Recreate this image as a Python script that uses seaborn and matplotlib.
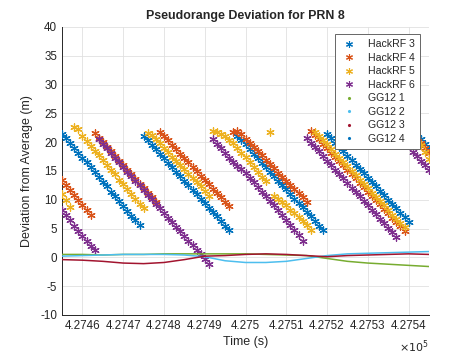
import numpy as np
import pandas as pd
import matplotlib
matplotlib.use('Agg')
import matplotlib.pyplot as plt
from matplotlib.lines import Line2D
import seaborn as sns

nan = np.nan

# HackRF samples, one per second from 427455 s to 427545 s
time_s = np.arange(427455, 427546)

hackrf3 = [21.5, 20.7, 19.8, 19.0, 18.1, 17.3, 16.5, 15.6, 14.8, 13.9, 13.1, 12.3, 11.4, 10.6, 9.7, 8.9, 8.1, 7.2, 6.4, 5.6,
           21.1, 20.3, 19.5, 18.8, 18.0, 17.2, 16.4, 15.6, 14.9, 14.1, 13.3, 12.5, 11.7, 11.0, 10.2, 9.4, 8.6, 7.8, 7.1, 6.3, 5.5, 4.7,
           nan,
           21.1, 20.3, 19.6, 18.8, 18.0, 17.2, 16.4, 15.7, 14.9, 14.1, 13.3, 12.6, 11.8, 11.0, 10.2, 9.4, 8.7, 7.9, 7.1, 6.3, 5.5, 4.8,
           21.4, 20.7, 19.9, 19.2, 18.4, 17.6, 16.9, 16.1, 15.4, 14.6, 13.8, 13.1, 12.3, 11.6, 10.8, 10.0, 9.3, 8.5, 7.7, 7.0, 6.2,
           nan, nan,
           20.5, 19.6, 18.8]

hackrf4 = [13.4, 12.5, 11.7, 10.8, 9.9, 9.1, 8.2, 7.4,
           21.6, 20.8, 20.0, 19.2, 18.4, 17.6, 16.8, 16.0, 15.2, 14.4, 13.6, 12.8, 12.0, 11.2, 10.4, 9.6,
           21.8, 21.0, 20.3, 19.5, 18.8, 18.0, 17.2, 16.5, 15.7, 15.0, 14.2, 13.4, 12.7, 11.9, 11.2, 10.4, 9.6, 8.9,
           21.8, 21.9, 21.4, 20.6, 19.9, 19.1, 18.4, 17.7, 16.9, 16.2, 15.5, 14.7, 14.0, 13.3, 12.6, 11.8, 11.1, 10.4, 9.6,
           22.0, 21.2, 20.5, 19.7, 19.0, 18.2, 17.5, 16.7, 16.0, 15.2, 14.4, 13.7, 12.9, 12.2, 11.4, 10.7, 9.9, 9.2, 8.4, 7.7, 6.9, 6.1, 5.4, 4.6,
           nan, nan,
           20.6, 19.8, 19.0, 18.2]

hackrf5 = [11.0, 10.0, 8.8,
           22.7, 22.3, 21.0, 20.2, 19.4, 18.5, 17.7, 16.9, 16.0, 15.2, 14.4, 13.5, 12.7, 11.9, 11.0, 10.2, 9.3, 8.5,
           21.6, 21.3, 20.5, 19.8, 19.0, 18.3, 17.5, 16.8, 16.0, 15.3, 14.5, 13.8, 13.0, 12.3, 11.5, 10.7,
           21.9, 21.7, 21.4, 21.0, 20.3, 19.8, 19.0, 18.2, 17.4, 16.5, 15.7, 14.9, 14.0, 13.3,
           21.8,
           10.6, 10.2, 9.6, 9.0, 8.3, 7.7, 7.0, 6.3, 5.6, 4.8,
           21.8, 21.1, 20.3, 19.6, 18.8, 18.0, 17.3, 16.5, 15.8, 15.0, 14.3, 13.5, 12.7, 12.0, 11.2, 10.5, 9.7, 9.0, 8.2, 7.4, 6.7, 5.9, 5.2,
           nan, nan, nan,
           19.5, 18.3, 17.1]

hackrf6 = [8.2, 7.3, 6.4, 5.5, 4.6, 3.7, 2.9, 2.0, 1.2,
           20.5, 19.7, 18.9, 18.1, 17.3, 16.5, 15.7, 14.9, 14.1, 13.3, 12.5, 11.7, 10.9, 10.1, 9.3, 8.5, 7.7, 6.9, 6.1, 5.3,
           4.5, 3.7, 2.9, 2.1, 1.3, 0.5, -0.3, -1.1,
           20.5, 19.7, 18.9, 18.1, 17.3, 16.5, 15.9, 15.3, 14.6, 13.8, 13.0, 12.2, 11.4, 10.6, 9.8, 9.0, 8.2, 7.4, 6.4, 5.6, 4.7, 3.8, 2.9,
           20.7, 19.9, 19.1, 18.4, 17.6, 16.8, 16.0, 15.2, 14.5, 13.7, 12.9, 12.1, 11.4, 10.6, 9.8, 9.0, 8.3, 7.5, 6.7, 5.9, 5.1, 4.4, 3.6,
           nan, nan, nan,
           18.3, 17.6, 16.8, 16.0, 15.2]

# GG12 receivers, read every 5 s
gg_time = [427455, 427460, 427465, 427470, 427475, 427480, 427485, 427490, 427495, 427500,
           427505, 427510, 427515, 427520, 427525, 427530, 427535, 427540, 427545]
gg12_1 = [0.5, 0.5, 0.4, 0.5, 0.5, 0.6, 0.6, 0.6, 0.6, 0.6, 0.5, 0.4, 0.3, -0.2, -0.7, -1.0, -1.2, -1.4, -1.6]
gg12_2 = [0.2, 0.3, 0.4, 0.5, 0.5, 0.5, 0.4, 0.1, -0.6, -0.9, -0.9, -0.7, -0.2, 0.3, 0.6, 0.7, 0.8, 0.9, 1.0]
gg12_3 = [-0.4, -0.5, -0.7, -1.0, -1.1, -0.9, -0.4, 0.2, 0.3, 0.5, 0.6, 0.5, 0.3, 0.1, 0.3, 0.4, 0.5, 0.6, 0.5]
gg12_4 = []  # no points visible in the window

hackrf_names = ['HackRF 3', 'HackRF 4', 'HackRF 5', 'HackRF 6']
gg_names = ['GG12 1', 'GG12 2', 'GG12 3', 'GG12 4']
x_ticks = [427460, 427470, 427480, 427490, 427500, 427510, 427520, 427530, 427540]
x_ticklabels = ['4.2746', '4.2747', '4.2748', '4.2749', '4.275', '4.2751', '4.2752', '4.2753', '4.2754']
y_ticks = [-10, -5, 0, 5, 10, 15, 20, 25, 30, 35, 40]

# matlab default colour order
c_blue = (0, 0.447, 0.741)
c_orange = (0.85, 0.325, 0.098)
c_yellow = (0.929, 0.694, 0.125)
c_purple = (0.494, 0.184, 0.556)
c_green = (0.466, 0.674, 0.188)
c_cyan = (0.301, 0.745, 0.933)
c_red = (0.635, 0.078, 0.184)

sns.set_style('white')
plt.rcParams['font.family'] = ['Liberation Sans', 'DejaVu Sans']
plt.rcParams['axes.unicode_minus'] = False

fig, ax = plt.subplots(figsize=(4.74, 3.55), dpi=100)
fig.subplots_adjust(left=0.131, right=0.905, bottom=0.113, top=0.924)

star = (6, 2, 0)
hack_series = [hackrf3, hackrf4, hackrf5, hackrf6]
hack_colors = [c_blue, c_orange, c_yellow, c_purple]
for vals, col in zip(hack_series, hack_colors):
    df = pd.DataFrame({'t': time_s, 'y': vals}).dropna()
    sns.scatterplot(data=df, x='t', y='y', marker=star, color=col, s=28,
                    linewidth=0.9, ax=ax, legend=False, zorder=3)

gg_series = [gg12_1, gg12_2, gg12_3]
gg_colors = [c_green, c_cyan, c_red]
for vals, col in zip(gg_series, gg_colors):
    sns.lineplot(x=gg_time, y=vals, color=col, linewidth=1.1, ax=ax,
                 legend=False, zorder=4)

ax.set_xlim(427455, 427545)
ax.set_ylim(-10, 40)
ax.set_xticks(x_ticks)
ax.set_xticklabels(x_ticklabels)
ax.set_yticks(y_ticks)
ax.grid(True, color='0.88', linewidth=0.6)
ax.set_axisbelow(True)
for side in ['top', 'right']:
    ax.spines[side].set_visible(False)
for side in ['left', 'bottom']:
    ax.spines[side].set_color('0.15')
    ax.spines[side].set_linewidth(0.7)
ax.tick_params(direction='in', length=3, width=0.6, colors='0.15', labelsize=8.4)

ax.set_title('Pseudorange Deviation for PRN 8', fontsize=8.9, fontweight='bold', pad=6)
ax.set_xlabel('Time (s)', fontsize=9, color='0.15', labelpad=3)
ax.set_ylabel('Deviation from Average (m)', fontsize=9, color='0.15', labelpad=5)
ax.text(1.0, -0.112, r'$\times10^{5}$', transform=ax.transAxes, ha='right', va='center',
        fontsize=8, color='0.15')

handles = [Line2D([], [], linestyle='none', marker=star, color=c, markersize=5, markeredgewidth=0.8)
           for c in hack_colors]
handles += [Line2D([], [], linestyle='none', marker='.', color=c, markersize=2.5)
            for c in gg_colors + [c_blue]]
leg = ax.legend(handles, hackrf_names + gg_names, loc='upper right', bbox_to_anchor=(0.975, 0.975),
                borderaxespad=0, fontsize=7.6, labelspacing=0.33, handletextpad=1.0,
                handlelength=1.6, borderpad=0.5,
                fancybox=False, framealpha=1, edgecolor='0.4')
leg.get_frame().set_linewidth(0.7)

fig.savefig('out.png', dpi=100, facecolor='white')
